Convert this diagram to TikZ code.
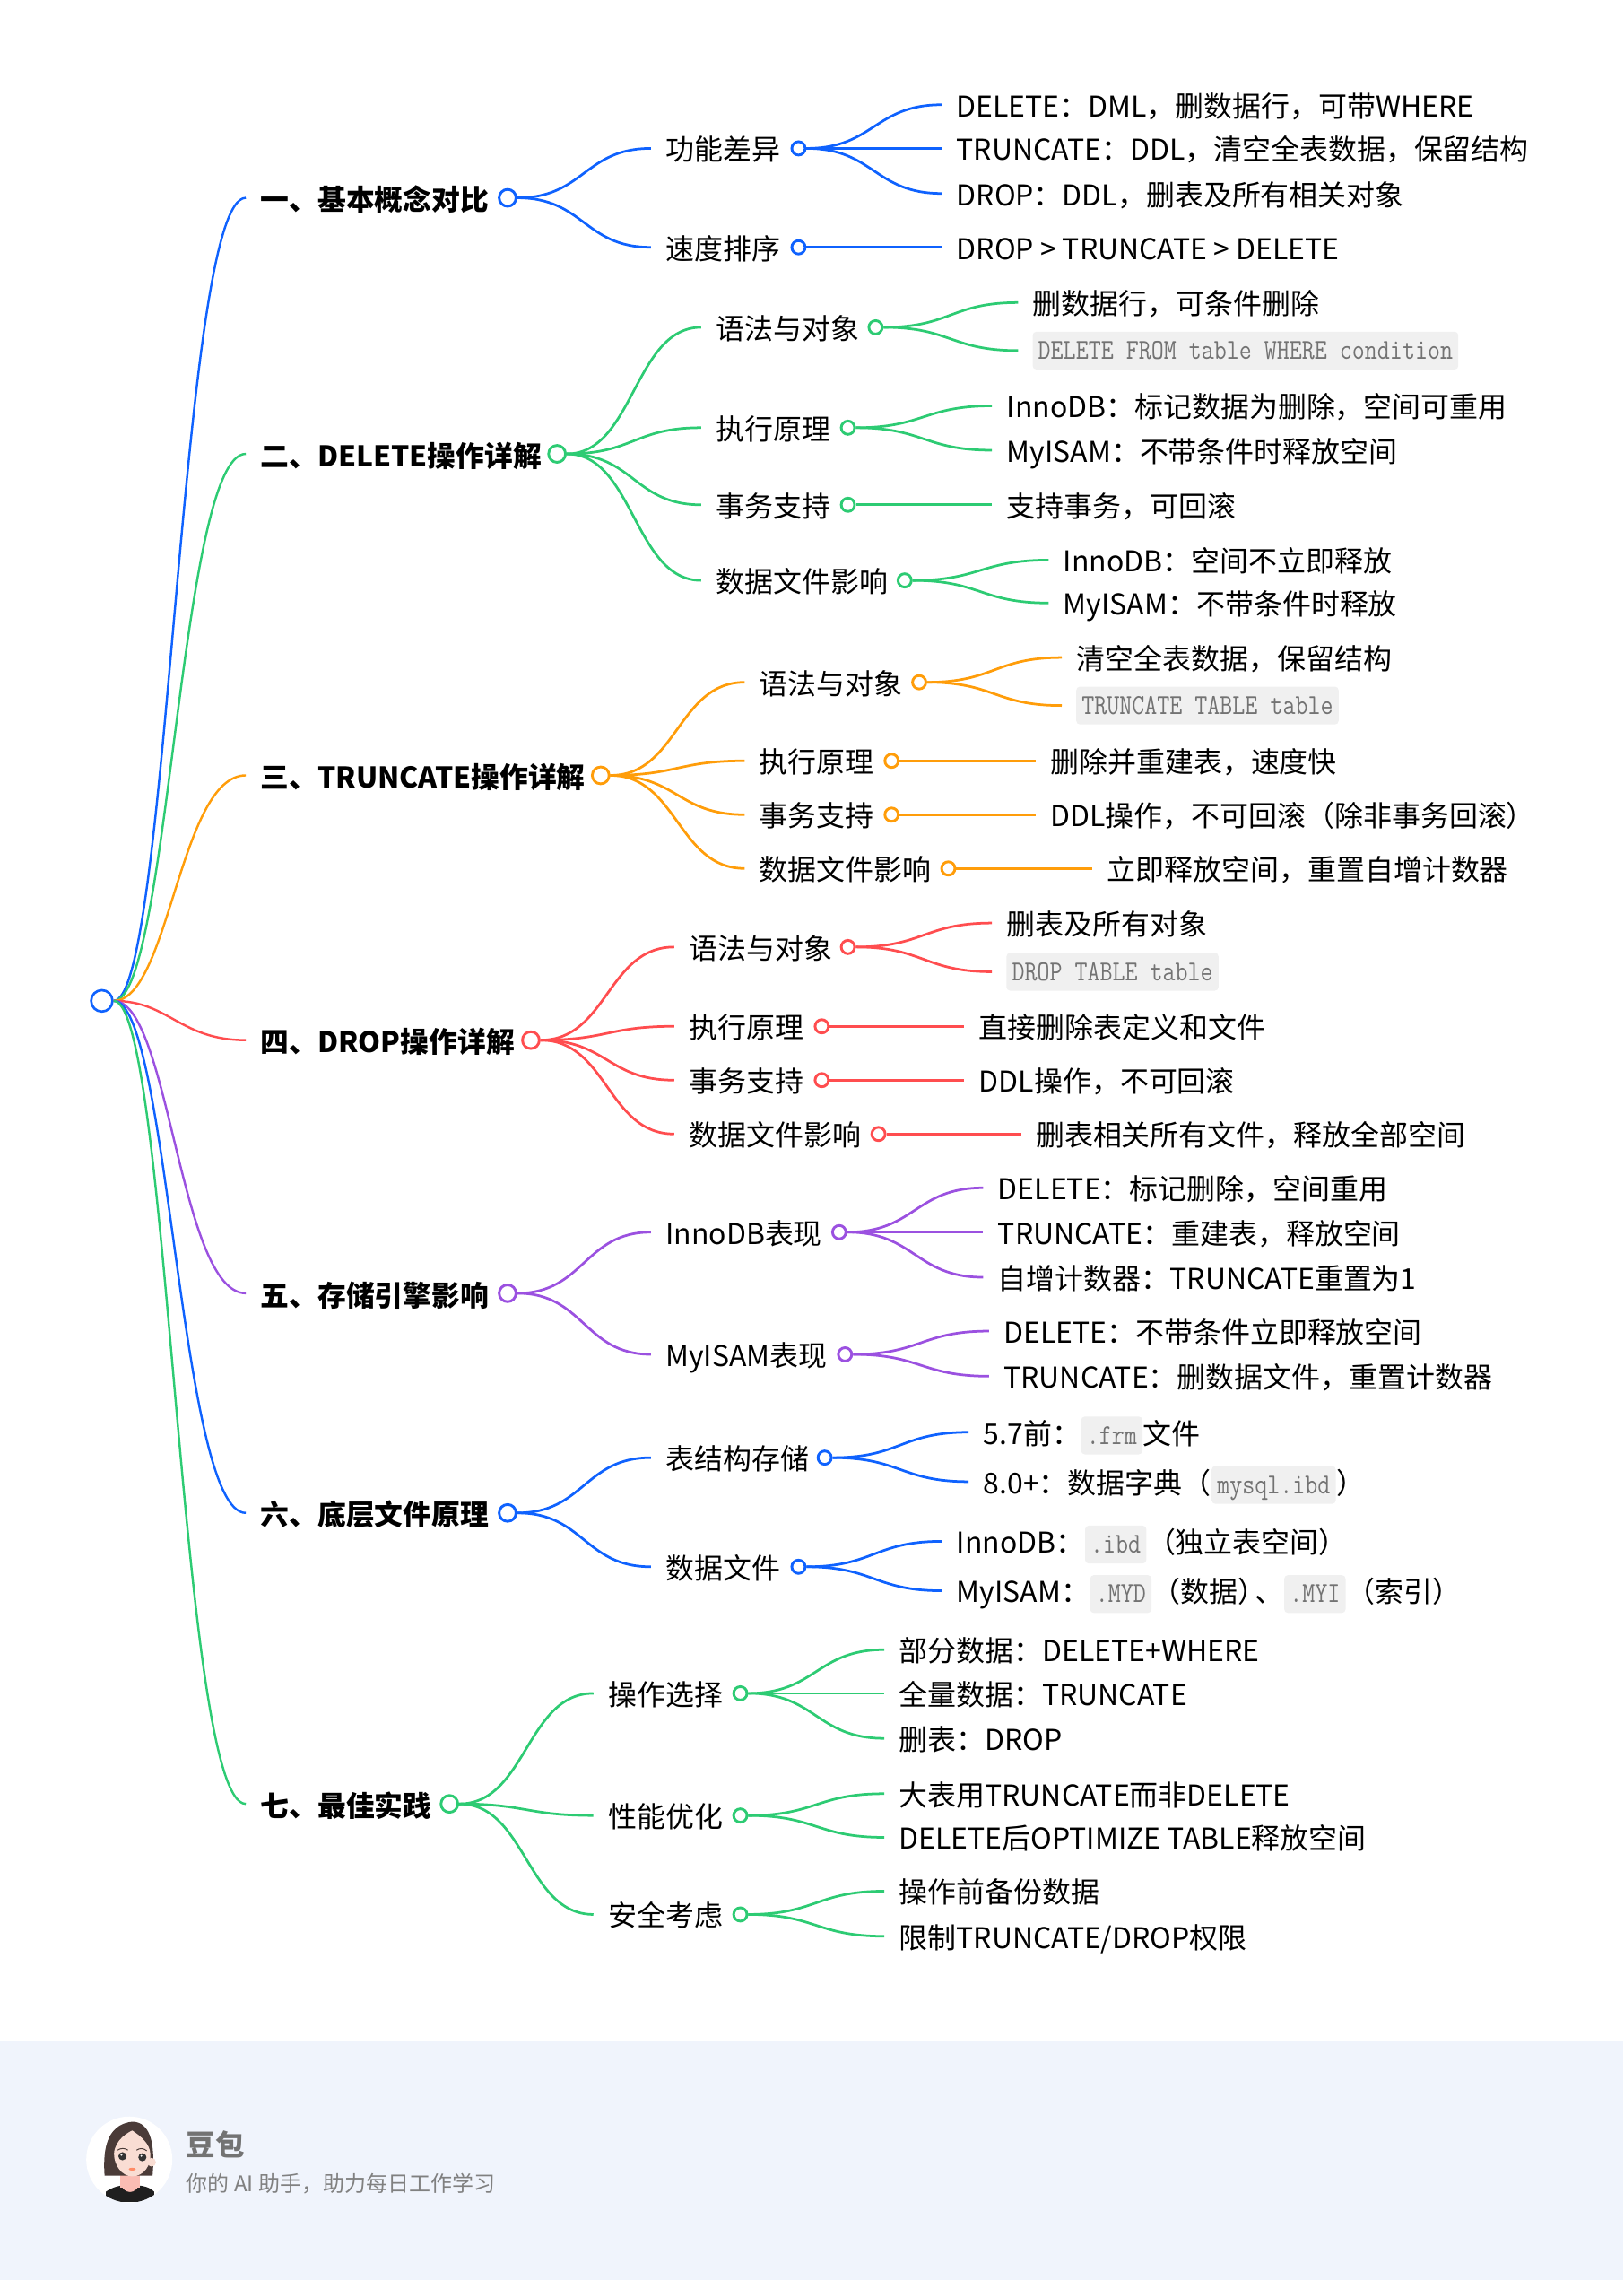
\documentclass[tikz,border=0pt]{standalone}
\usepackage{fontspec}
\setmainfont{Noto Sans CJK SC}
\newfontfamily\codigofont[FakeStretch=0.845]{Latin Modern Mono}
\usetikzlibrary{calc,positioning}
\definecolor{azul}{HTML}{0F62FE}
\definecolor{verde}{HTML}{2DCB73}
\definecolor{naranja}{HTML}{FF9D0A}
\definecolor{rojo}{HTML}{FF4D4F}
\definecolor{morado}{HTML}{9B51E0}
\definecolor{fondo}{HTML}{F0F4FC}
\definecolor{pelo}{HTML}{4A3B38}
\definecolor{piel}{HTML}{F9DDD3}
\tikzset{
    tema/.style={anchor=west,inner xsep=10pt,inner ysep=0pt,text height=20pt,text depth=2.5pt,node font=\bfseries\fontsize{19.6}{24}\selectfont},
    rama/.style={anchor=west,inner xsep=10pt,inner ysep=0pt,text height=19pt,text depth=2.5pt},
    hoja/.style={rama},
    codigo/.style={fill=black!6,rounded corners=2.5pt,inner xsep=3.8pt,inner ysep=0pt,text height=19pt,text depth=7pt,text=black!55,node font=\codigofont\fontsize{19.85}{24}\selectfont},
    hojacod/.style={codigo,anchor=west,outer xsep=10pt},
    seguido/.style={inner sep=0pt,text height=19pt,text depth=2.5pt},
    punto/.style={circle,draw,fill=white,line width=1.8pt,minimum size=9.2pt,inner sep=0pt},
    puntotema/.style={punto,minimum size=11.6pt},
    curva/.style={draw,line width=1.7pt,to path={.. controls ($(\tikztostart)!.5!(\tikztostart -| \tikztotarget)$) and ($(\tikztotarget)!.5!(\tikztotarget -| \tikztostart)$) .. (\tikztotarget)}},
    curvaraiz/.style={draw,line width=1.5pt,to path={.. controls ($(\tikztostart)!.42!(\tikztostart -| \tikztotarget)$) and ($(\tikztotarget)!.5!(\tikztotarget -| \tikztostart)$) .. (\tikztotarget)}},
}

\begin{document}
\begin{tikzpicture}[
    x=1pt,y=-1pt,
    every node/.style={node font=\fontsize{19.7}{24}\selectfont},
]
    \useasboundingbox (0,0) rectangle (1116,1567.3);
    \fill [fondo] (0,1403) rectangle (1116,1567.3);

    \node [punto,draw=azul,line width=1.65pt,minimum size=14.7pt] (raiz) at (70,688) {};

    % uno
    \node [tema] (t1) at (169,136) {一、基本概念对比};
    \node [puntotema,draw=azul] (p1) at (349,136) {};
    \path [curvaraiz,azul] (raiz.east) to (t1.west);
    \node [rama] (r11) at (447.5,102) {功能差异};
    \node [punto,draw=azul] (p11) at (549,102) {};
    \path [curva,azul] (p1.east) to (r11.west);
    \node [hoja] (h111) at (647.5,72) {DELETE：DML，删数据行，可带WHERE};
    \node [hoja] (h112) at (647.5,102) {TRUNCATE：DDL，清空全表数据，保留结构};
    \node [hoja] (h113) at (647.5,133) {DROP：DDL，删表及所有相关对象};
    \path [curva,azul] (p11.east) to (h111.west);
    \path [curva,azul] (p11.east) to (h112.west);
    \path [curva,azul] (p11.east) to (h113.west);
    \node [rama] (r12) at (447.5,170) {速度排序};
    \node [punto,draw=azul] (p12) at (549,170) {};
    \path [curva,azul] (p1.east) to (r12.west);
    \node [hoja] (h121) at (647.5,170) {DROP > TRUNCATE > DELETE};
    \path [curva,azul] (p12.east) to (h121.west);

    % dos
    \node [tema] (t2) at (169,312) {二、DELETE操作详解};
    \node [puntotema,draw=verde] (p2) at (383,312) {};
    \path [curvaraiz,verde] (raiz.east) to (t2.west);
    \node [rama] (r21) at (482,225) {语法与对象};
    \node [punto,draw=verde] (p21) at (602,225) {};
    \path [curva,verde] (p2.east) to (r21.west);
    \node [hoja] (h211) at (700,208) {删数据行，可条件删除};
    \node [hojacod] (h212) at (700,241) {DELETE FROM table WHERE condition};
    \path [curva,verde] (p21.east) to (h211.west);
    \path [curva,verde] (p21.east) to (h212.west);
    \node [rama] (r22) at (482,294) {执行原理};
    \node [punto,draw=verde] (p22) at (583,294) {};
    \path [curva,verde] (p2.east) to (r22.west);
    \node [hoja] (h221) at (682,279) {InnoDB：标记数据为删除，空间可重用};
    \node [hoja] (h222) at (682,309.5) {MyISAM：不带条件时释放空间};
    \path [curva,verde] (p22.east) to (h221.west);
    \path [curva,verde] (p22.east) to (h222.west);
    \node [rama] (r23) at (482,347) {事务支持};
    \node [punto,draw=verde] (p23) at (583,347) {};
    \path [curva,verde] (p2.east) to (r23.west);
    \node [hoja] (h231) at (682,347) {支持事务，可回滚};
    \path [curva,verde] (p23.east) to (h231.west);
    \node [rama] (r24) at (482,399) {数据文件影响};
    \node [punto,draw=verde] (p24) at (622,399) {};
    \path [curva,verde] (p2.east) to (r24.west);
    \node [hoja] (h241) at (721,385) {InnoDB：空间不立即释放};
    \node [hoja] (h242) at (721,414.5) {MyISAM：不带条件时释放};
    \path [curva,verde] (p24.east) to (h241.west);
    \path [curva,verde] (p24.east) to (h242.west);

    % tres
    \node [tema] (t3) at (169,533) {三、TRUNCATE操作详解};
    \node [puntotema,draw=naranja] (p3) at (413,533) {};
    \path [curvaraiz,naranja] (raiz.east) to (t3.west);
    \node [rama] (r31) at (512,469) {语法与对象};
    \node [punto,draw=naranja] (p31) at (632,469) {};
    \path [curva,naranja] (p3.east) to (r31.west);
    \node [hoja] (h311) at (730,452) {清空全表数据，保留结构};
    \node [hojacod] (h312) at (730,485) {TRUNCATE TABLE table};
    \path [curva,naranja] (p31.east) to (h311.west);
    \path [curva,naranja] (p31.east) to (h312.west);
    \node [rama] (r32) at (512,523) {执行原理};
    \node [punto,draw=naranja] (p32) at (613,523) {};
    \path [curva,naranja] (p3.east) to (r32.west);
    \node [hoja] (h321) at (712,523) {删除并重建表，速度快};
    \path [curva,naranja] (p32.east) to (h321.west);
    \node [rama] (r33) at (512,560) {事务支持};
    \node [punto,draw=naranja] (p33) at (613,560) {};
    \path [curva,naranja] (p3.east) to (r33.west);
    \node [hoja] (h331) at (712,560) {DDL操作，不可回滚（除非事务回滚）};
    \path [curva,naranja] (p33.east) to (h331.west);
    \node [rama] (r34) at (512,597) {数据文件影响};
    \node [punto,draw=naranja] (p34) at (652,597) {};
    \path [curva,naranja] (p3.east) to (r34.west);
    \node [hoja] (h341) at (751,597) {立即释放空间，重置自增计数器};
    \path [curva,naranja] (p34.east) to (h341.west);

    % cuatro
    \node [tema] (t4) at (169,715) {四、DROP操作详解};
    \node [puntotema,draw=rojo] (p4) at (365,715) {};
    \path [curvaraiz,rojo] (raiz.east) to (t4.west);
    \node [rama] (r41) at (463.5,651) {语法与对象};
    \node [punto,draw=rojo] (p41) at (583,651) {};
    \path [curva,rojo] (p4.east) to (r41.west);
    \node [hoja] (h411) at (682,634.5) {删表及所有对象};
    \node [hojacod] (h412) at (682,668) {DROP TABLE table};
    \path [curva,rojo] (p41.east) to (h411.west);
    \path [curva,rojo] (p41.east) to (h412.west);
    \node [rama] (r42) at (463.5,705.5) {执行原理};
    \node [punto,draw=rojo] (p42) at (565,705.5) {};
    \path [curva,rojo] (p4.east) to (r42.west);
    \node [hoja] (h421) at (663,705.5) {直接删除表定义和文件};
    \path [curva,rojo] (p42.east) to (h421.west);
    \node [rama] (r43) at (463.5,742.5) {事务支持};
    \node [punto,draw=rojo] (p43) at (565,742.5) {};
    \path [curva,rojo] (p4.east) to (r43.west);
    \node [hoja] (h431) at (663,742.5) {DDL操作，不可回滚};
    \path [curva,rojo] (p43.east) to (h431.west);
    \node [rama] (r44) at (463.5,779.5) {数据文件影响};
    \node [punto,draw=rojo] (p44) at (604,779.5) {};
    \path [curva,rojo] (p4.east) to (r44.west);
    \node [hoja] (h441) at (702,779.5) {删表相关所有文件，释放全部空间};
    \path [curva,rojo] (p44.east) to (h441.west);

    % cinco
    \node [tema] (t5) at (169,889) {五、存储引擎影响};
    \node [puntotema,draw=morado] (p5) at (349,889) {};
    \path [curvaraiz,morado] (raiz.east) to (t5.west);
    \node [rama] (r51) at (447.5,847) {InnoDB表现};
    \node [punto,draw=morado] (p51) at (577,847) {};
    \path [curva,morado] (p5.east) to (r51.west);
    \node [hoja] (h511) at (676,816.5) {DELETE：标记删除，空间重用};
    \node [hoja] (h512) at (676,847) {TRUNCATE：重建表，释放空间};
    \node [hoja] (h513) at (676,878) {自增计数器：TRUNCATE重置为1};
    \path [curva,morado] (p51.east) to (h511.west);
    \path [curva,morado] (p51.east) to (h512.west);
    \path [curva,morado] (p51.east) to (h513.west);
    \node [rama] (r52) at (447.5,931) {MyISAM表现};
    \node [punto,draw=morado] (p52) at (581,931) {};
    \path [curva,morado] (p5.east) to (r52.west);
    \node [hoja] (h521) at (680,915) {DELETE：不带条件立即释放空间};
    \node [hoja] (h522) at (680,946) {TRUNCATE：删数据文件，重置计数器};
    \path [curva,morado] (p52.east) to (h521.west);
    \path [curva,morado] (p52.east) to (h522.west);

    % seis
    \node [tema] (t6) at (169,1040) {六、底层文件原理};
    \node [puntotema,draw=azul] (p6) at (349,1040) {};
    \path [curvaraiz,azul] (raiz.east) to (t6.west);
    \node [rama] (r61) at (447.5,1002) {表结构存储};
    \node [punto,draw=azul] (p61) at (567,1002) {};
    \path [curva,azul] (p6.east) to (r61.west);
    \node [hoja] (h611) at (666,984.5) {5.7前：};
    \node [codigo,base right=-10pt of h611.base east] (c611) {.frm};
    \node [seguido,base right=0pt of c611.base east] (s611) {文件};
    \node [hoja] (h612) at (666,1018.5) {8.0+：数据字典（};
    \node [codigo,base right=-10pt of h612.base east] (c612) {mysql.ibd};
    \node [seguido,base right=0pt of c612.base east] (s612) {）};
    \path [curva,azul] (p61.east) to (h611.west);
    \path [curva,azul] (p61.east) to (h612.west);
    \node [rama] (r62) at (447.5,1077) {数据文件};
    \node [punto,draw=azul] (p62) at (549,1077) {};
    \path [curva,azul] (p6.east) to (r62.west);
    \node [hoja] (h621) at (647.5,1059.5) {InnoDB：};
    \node [codigo,base right=-10pt of h621.base east] (c621) {.ibd};
    \node [seguido,base right=0pt of c621.base east] (s621) {（独立表空间）};
    \node [hoja] (h622) at (647.5,1093.5) {MyISAM：};
    \node [codigo,base right=-10pt of h622.base east] (c622) {.MYD};
    \node [seguido,base right=0pt of c622.base east] (s622) {（数据）\kern-8pt、};
    \node [codigo,base right=0pt of s622.base east] (d622) {.MYI};
    \node [seguido,base right=0pt of d622.base east] (e622) {（索引）};
    \path [curva,azul] (p62.east) to (h621.west);
    \path [curva,azul] (p62.east) to (h622.west);

    % siete
    \node [tema] (t7) at (169,1240) {七、最佳实践};
    \node [puntotema,draw=verde] (p7) at (309,1240) {};
    \path [curvaraiz,verde] (raiz.east) to (t7.west);
    \node [rama] (r71) at (408,1164) {操作选择};
    \node [punto,draw=verde] (p71) at (509,1164) {};
    \path [curva,verde] (p7.east) to (r71.west);
    \node [hoja] (h711) at (608,1134) {部分数据：DELETE+WHERE};
    \node [hoja] (h712) at (608,1164) {全量数据：TRUNCATE};
    \node [hoja] (h713) at (608,1195) {删表：DROP};
    \path [curva,verde] (p71.east) to (h711.west);
    \path [curva,verde] (p71.east) to (h712.west);
    \path [curva,verde] (p71.east) to (h713.west);
    \node [rama] (r72) at (408,1248) {性能优化};
    \node [punto,draw=verde] (p72) at (509,1248) {};
    \path [curva,verde] (p7.east) to (r72.west);
    \node [hoja] (h721) at (608,1233) {大表用TRUNCATE而非DELETE};
    \node [hoja] (h722) at (608,1263) {DELETE后OPTIMIZE TABLE释放空间};
    \path [curva,verde] (p72.east) to (h721.west);
    \path [curva,verde] (p72.east) to (h722.west);
    \node [rama] (r73) at (408,1316) {安全考虑};
    \node [punto,draw=verde] (p73) at (509,1316) {};
    \path [curva,verde] (p7.east) to (r73.west);
    \node [hoja] (h731) at (608,1300) {操作前备份数据};
    \node [hoja] (h732) at (608,1331) {限制TRUNCATE/DROP权限};
    \path [curva,verde] (p73.east) to (h731.west);
    \path [curva,verde] (p73.east) to (h732.west);

    % pie
    \begin{scope}[shift={(88.9,1484.5)}]
        \fill [white] (0,0) circle (29.6);
        \clip (0,0) circle (29.6);
        \fill [black!88] (-16,29) -- (-16,22) .. controls (-10,18) and (-6,18) .. (0,17) .. controls (8,18) and (13,18) .. (17,22) -- (17,29) -- cycle;
        \fill [piel!85!red] (-6,8) rectangle (7,19);
        \fill [piel!85!red] (-6,17) .. controls (-3,24) and (4,24) .. (7,17) -- cycle;
        \fill [pelo] (-17,11) .. controls (-18,-4) and (-17,-24) .. (2,-26) .. controls (14,-26) and (18,-12) .. (16,11) -- (-5,11) -- cycle;
        \fill [piel] (15.3,1.8) circle (3);
        \fill [piel] (-10.5,-4) .. controls (-10,-14) and (0,-19) .. (2,-20) .. controls (8,-16) and (14,-11) .. (14.5,-4) .. controls (15,4) and (10,11.5) .. (2,11.5) .. controls (-5,11.5) and (-10.5,4) .. (-10.5,-4) -- cycle;
        \draw [pelo,line width=.6pt] (-8,-6.5) .. controls (-6,-8) and (-3,-8) .. (-1,-6.5);
        \draw [pelo,line width=.6pt] (5,-6.5) .. controls (7,-8) and (10,-8) .. (12,-6);
        \fill [black!80] (-4.7,-2.3) circle (2.8);
        \fill [black!80] (9,-1.6) circle (2.8);
        \fill [white] (-5.4,-3.2) circle (.7);
        \fill [white] (8.3,-2.5) circle (.7);
        \fill [red!50!orange!60!white] (2,6.6) ellipse (2.4 and 1);
    \end{scope}
    \node [anchor=base west,inner sep=0pt,text=black!55,node font=\bfseries\fontsize{20}{24}\selectfont] (marca) at (128,1482) {豆包};
    \node [anchor=base west,inner sep=0pt,text=black!50,node font=\fontsize{14.8}{18}\selectfont] (lema) at (128,1506.5) {你的 AI 助手，助力每日工作学习};
\end{tikzpicture}
\end{document}
